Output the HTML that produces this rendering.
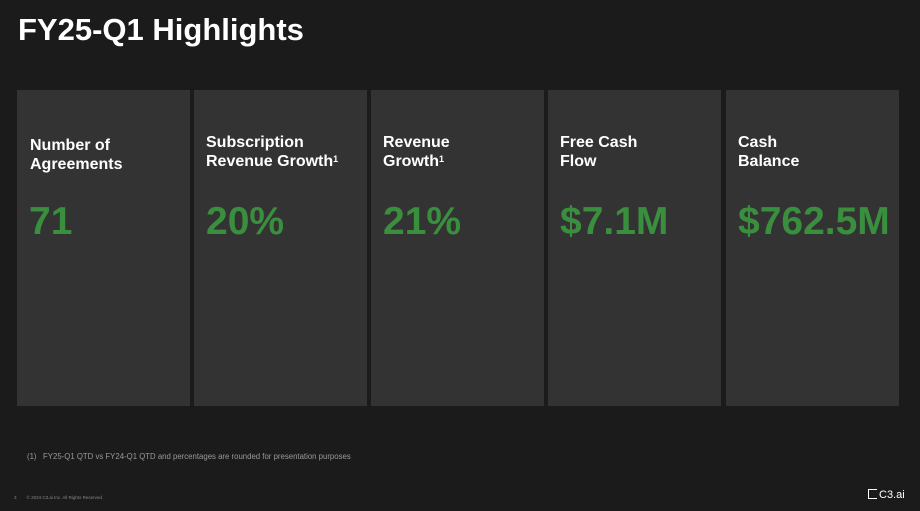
<!DOCTYPE html>
<html><head><meta charset="utf-8"><style>
body{margin:0;width:920px;height:511px;background:#1b1b1b;font-family:"Liberation Sans",Arial,sans-serif;position:relative;overflow:hidden}
h1{position:absolute;left:18px;top:12px;margin:0;color:#fff;font-size:31px;font-weight:bold}
.card{position:absolute;top:90px;height:316px;width:173px;background:#333}
.lbl{position:absolute;left:13px;top:44px;color:#fff;font-size:16px;font-weight:bold;line-height:19px}
.lbl sup{font-size:9px;vertical-align:top;position:relative;top:-2px}
.val{position:absolute;left:12px;top:110px;color:#3a8f3e;font-size:39px;font-weight:bold}
.fn{position:absolute;left:27px;top:452px;color:#999;font-size:7.8px}
.cp{position:absolute;left:14px;top:495px;color:#888;font-size:4.5px}
.logo{position:absolute;left:868px;top:489px;color:#fff;font-size:11px}
</style></head><body>
<h1>FY25-Q1 Highlights</h1>
<div class="card" style="left:17px"><div class="lbl" style="top:46px">Number of<br>Agreements</div><div class="val">71</div></div>
<div class="card" style="left:194px;"><div class="lbl" style="top:43px;left:12px">Subscription<br>Revenue Growth<sup>1</sup></div><div class="val">20%</div></div>
<div class="card" style="left:371px"><div class="lbl" style="top:43px;left:12px">Revenue<br>Growth<sup>1</sup></div><div class="val">21%</div></div>
<div class="card" style="left:548px"><div class="lbl" style="top:43px;left:12px">Free Cash<br>Flow</div><div class="val">$7.1M</div></div>
<div class="card" style="left:726px"><div class="lbl" style="top:43px;left:12px">Cash<br>Balance</div><div class="val">$762.5M</div></div>
<div class="fn">(1)&nbsp;&nbsp;&nbsp;FY25-Q1 QTD vs FY24-Q1 QTD and percentages are rounded for presentation purposes</div>
<div class="cp">3&nbsp;&nbsp;&nbsp;&nbsp;&nbsp;&nbsp;&nbsp;&nbsp;© 2024 C3.ai Inc. All Rights Reserved.</div>
<div class="logo"><span style="display:inline-block;width:9px;height:10px;border:1.5px solid #fff;border-right:none;box-sizing:border-box;vertical-align:-1px;margin-right:2px"></span>C3.ai</div>
</body></html>
